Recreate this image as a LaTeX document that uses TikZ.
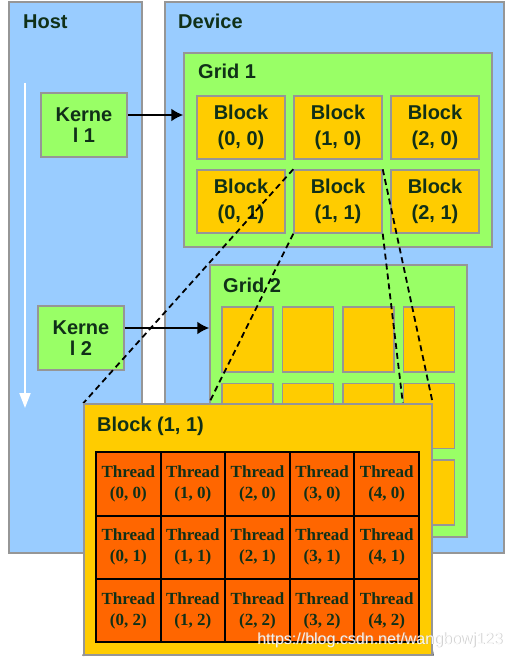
\documentclass[tikz,border=0pt]{standalone}
\usepackage{fontspec}
\setmainfont{Liberation Serif}
\setsansfont{Liberation Sans}
\usetikzlibrary{arrows.meta}
\usetikzlibrary{positioning}
\pgfdeclarelayer{front}
\pgfsetlayers{main,front}
\definecolor{panelblue}{RGB}{153,204,255}
\definecolor{gridgreen}{RGB}{153,255,102}
\definecolor{blockyellow}{RGB}{255,204,0}
\definecolor{threadorange}{RGB}{255,102,0}
\definecolor{rimgray}{RGB}{150,150,150}
\definecolor{labelgreen}{RGB}{16,48,24}
\tikzstyle{panel}=[rectangle,draw=rimgray,fill=panelblue,line width=1.5pt,inner sep=0pt]
\tikzstyle{gridbox}=[panel,fill=gridgreen]
\tikzstyle{kernel}=[gridbox,minimum width=86,minimum height=64,align=center,text=labelgreen,font=\sffamily\bfseries\fontsize{20}{21}\selectfont]
\tikzstyle{block}=[panel,fill=blockyellow,minimum width=88,minimum height=63,align=center,text=labelgreen,font=\sffamily\bfseries\fontsize{20}{26}\selectfont]
\tikzstyle{smallblock}=[panel,fill=blockyellow,minimum width=51,minimum height=65]
\tikzstyle{thread}=[rectangle,draw=black,fill=threadorange,line width=2pt,inner sep=0pt,minimum width=64.6,minimum height=63.3,align=center,text=labelgreen,font=\rmfamily\bfseries\fontsize{17}{21}\selectfont]
\tikzstyle{heading}=[anchor=base west,inner sep=0pt,text=labelgreen,font=\sffamily\bfseries\fontsize{20}{24}\selectfont]
\tikzstyle{edge}=[draw,line width=2pt,-{Latex[length=12pt,width=13pt]}]
\tikzstyle{zoomline}=[draw,line width=1.8pt,dash pattern=on 6pt off 4pt]
\tikzstyle{watermark}=[inner sep=0pt,font=\sffamily\fontsize{16}{18}\selectfont]

\begin{document}
\begin{tikzpicture}[x=1pt,y=-1pt]
  \useasboundingbox[fill=white] (0,0) rectangle (512,658);

  % host and device
  \node[panel,minimum width=133,minimum height=551] (host) at (75.5,277.5) {};
  \node[panel,minimum width=339,minimum height=551] (device) at (334.5,277.5) {};
  \node[heading] at (23,29) {Host};
  \node[heading] at (178,29) {Device};

  \coordinate (flowtop) at (25,83);
  \coordinate (flowend) at (25,408);
  \draw[white,line width=2pt,-{Triangle[length=15pt,width=11pt]}] (flowtop) -- (flowend);

  \foreach \pos/\name/\num in {{(84,125)/k1/1}, {(81,338)/k2/2}}
      \node[kernel] (\name) at \pos {Kerne\\l \num};

  % grid 1
  \node[gridbox,minimum width=308,minimum height=194] (g1) at (338,150) {};
  \node[heading] at (198,79) {Grid 1};
  \foreach \col/\cx in {0/241, 1/338, 2/435}
      \foreach \row/\cy in {0/127.5, 1/201.5}
          \node[block] (b\col\row) at (\cx,\cy) {Block\\(\col, \row)};

  % grid 2
  \node[gridbox,minimum width=257,minimum height=272] (g2) at (338.5,401) {};
  \node[heading] at (223,292) {Grid 2};
  \foreach \col/\cx in {0/247.5, 1/308, 2/368.5, 3/429}
      \foreach \row/\cy in {0/339.5, 1/416, 2/492.5}
          \node[smallblock] (s\col\row) at (\cx,\cy) {};

  \path[edge] ([yshift=10pt]k1.east) -- ([yshift=10pt]k1.east -| g1.west);
  \path[edge] ([yshift=10pt]k2.east) -- ([yshift=10pt]k2.east -| g2.west);

  % block (1,1) blown up, kept in front of the dashed lines
  \begin{pgfonlayer}{front}
  \node[panel,fill=blockyellow,minimum width=348,minimum height=251] (blk) at (258,529.5) {};
  \node[heading] at (97,431) {Block (1, 1)};

  \foreach \col in {0,...,4}
      \foreach \row in {0,1,2}
          \node[thread] (t\col\row) at ({128.3+64.6*\col},{484+63.3*\row}) {Thread\\(\col, \row)};

  \node[watermark,text=black!35,opacity=0.6] at (380.8,640.8) {https://blog.csdn.net/wangbowj123};
  \node[watermark,text=white,opacity=0.9] (mark) at (380,640) {https://blog.csdn.net/wangbowj123};
  \end{pgfonlayer}

  \foreach \corner in {north west, south west, north east, south east}
      \path[zoomline] (b11.\corner) -- (blk.\corner);

\end{tikzpicture}
\end{document}
